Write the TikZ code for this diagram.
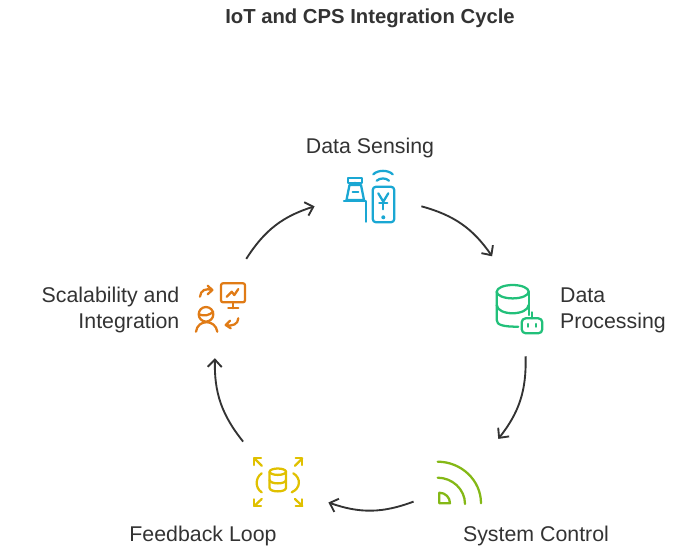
\documentclass[tikz,border=0pt]{standalone}
\usepackage{fontspec}
\setmainfont{Liberation Sans}
\usetikzlibrary{arrows.meta}
\definecolor{textgray}{HTML}{333333}
\definecolor{iconblue}{HTML}{1AA7D3}
\definecolor{icongreen}{HTML}{22C07A}
\definecolor{iconlime}{HTML}{84B816}
\definecolor{iconyellow}{HTML}{E0C000}
\definecolor{iconorange}{HTML}{E07B16}
\begin{document}
\begin{tikzpicture}[x=0.75pt,y=-0.75pt,>={Straight Barb[length=5.5pt,width=10.5pt]},
	stepring/.style={circle,minimum size=82.5pt,inner sep=0pt},
	flow/.style={->,draw=textgray,line width=1.4pt},
	label/.style={text=textgray,font=\fontsize{16}{19.5}\selectfont},
	icon/.style={line width=1.7pt,line cap=round,line join=round}]
	\useasboundingbox (0,0) rectangle (700,558);
	\node[text=textgray,font=\fontsize{15.2}{18}\selectfont\bfseries] (title) at (370,18) {IoT and CPS Integration Cycle};
	% rings the arrows start and end on
	\node[stepring] (sensing) at (368,192) {};
	\node[stepring] (processing) at (524.6,301) {};
	\node[stepring] (control) at (465.8,483.6) {};
	\node[stepring] (feedback) at (275.6,486.3) {};
	\node[stepring] (scaling) at (213,303) {};
	\draw[flow] (sensing.-15.8) to[bend left=20] (processing.126.5);
	\draw[flow] (processing.-89.6) to[bend left=20] (control.54.2);
	\draw[flow] (control.199.6) to[bend left=20] (feedback.-17.7);
	\draw[flow] (feedback.126.3) to[bend left=20] (scaling.-88);
	\draw[flow] (scaling.53) to[bend left=20] (sensing.195.8);
	% labels
	\node[label] (sensingtext) at (370,148) {Data Sensing};
	\node[label,align=left,anchor=west] (processingtext) at (555.5,310) {Data\\Processing};
	\node[label] (controltext) at (536,536) {System Control};
	\node[label] (feedbacktext) at (203,536) {Feedback Loop};
	\node[label,align=right,anchor=east] (scalingtext) at (184,310) {Scalability and\\Integration};
	% data sensing icon
	\begin{scope}[icon,draw=iconblue]
		\draw (348.3,178.3) rectangle (362.3,182.7);
		\draw (355.3,182.7) -- (355.3,185);
		\draw (349.5,185) -- (361,185) -- (364,200) -- (346.5,200) -- cycle;
		\draw (352.7,191.7) -- (358.3,191.7);
		\draw (344,200.7) -- (366,200.7) -- (366,221.7);
		\draw[rounded corners=2.5pt] (372.7,186.7) rectangle (394.3,222.3);
		\draw (378.3,193.3) -- (383.3,201.7) -- (388.3,193.3);
		\draw (383.3,201.7) -- (383.3,209.3);
		\draw (379.3,202.7) -- (387.3,202.7);
		\fill[iconblue] (383.3,217.3) circle (2);
		\draw (373.3,174.3) .. controls (378,169.7) and (388,169.7) .. (392.7,174.3);
		\draw (376.7,180.7) .. controls (380,177.7) and (386,177.7) .. (389,180.7);
	\end{scope}
	% data processing icon
	\begin{scope}[icon,draw=icongreen]
		\draw (512.7,291.7) circle[x radius=16,y radius=6.7];
		\draw (496.7,291.7) -- (496.7,320) .. controls (496.7,325) and (503,326.7) .. (518.3,326.7);
		\draw (528.7,291.7) -- (528.7,315);
		\draw (496.7,305) .. controls (497.5,316) and (527.5,316) .. (528.7,305);
		\draw[rounded corners=3pt] (521.7,318.3) rectangle (542.3,333.3);
		\draw (532,318.3) -- (532,312.3);
		\draw (527.7,324) -- (527.7,326.7);
		\draw (536.3,324) -- (536.3,326.7);
	\end{scope}
	% system control icon
	\begin{scope}[icon,draw=iconlime]
		\draw (437.7,461.7) .. controls (461,461.7) and (481,480) .. (481,503.3);
		\draw (437.7,477.7) .. controls (452,477.7) and (465,489) .. (465,504);
		\draw (439.3,492.7) .. controls (445.3,492.7) and (450,497.3) .. (450,503.3) -- (439.3,503.3) -- cycle;
	\end{scope}
	% feedback loop icon
	\begin{scope}[icon,draw=iconyellow]
		\draw (277.8,471.7) circle[x radius=8.2,y radius=3.2];
		\draw (269.6,471.7) -- (269.6,488) .. controls (270,492.5) and (285.6,492.5) .. (286,488) -- (286,471.7);
		\draw (269.6,480) .. controls (270,484.5) and (285.6,484.5) .. (286,480);
		\draw (261.7,473.3) .. controls (255,478) and (255,488) .. (261.7,492.3);
		\draw (293.3,473.3) .. controls (301,478) and (301,488) .. (291.7,492.3);
		\draw (261.7,465.7) -- (254.3,458.3);
		\draw (254.3,465) -- (254.3,458.3) -- (261,458.3);
		\draw (295,465.7) -- (302.3,458.3);
		\draw (295.7,458.3) -- (302.3,458.3) -- (302.3,465);
		\draw (261.7,499) -- (254.3,506);
		\draw (254.3,499.3) -- (254.3,506) -- (261,506);
		\draw (295,499) -- (302.3,506);
		\draw (302.3,499.3) -- (302.3,506) -- (295.7,506);
	\end{scope}
	% scalability icon
	\begin{scope}[icon,draw=iconorange]
		\draw[rounded corners=1.5pt] (221,283.3) rectangle (245,302.3);
		\draw (233,302.3) -- (233,308.3);
		\draw (228.3,308.3) -- (238.3,308.3);
		\draw (226.7,296.7) -- (231.7,291.7) -- (234.3,295) -- (238.3,289);
		\draw (200,296.7) .. controls (200.5,290) and (206,288) .. (212.3,290);
		\draw (207.7,285.7) -- (212.3,290) -- (207.7,294.3);
		\draw (206,314.3) circle (7.3);
		\draw (199,314.3) .. controls (204,316.5) and (209,315.5) .. (213.3,311.7);
		\draw (196,331.7) .. controls (197.5,319) and (215.5,319) .. (217.3,331.7);
		\draw (238.3,318.3) .. controls (238,324) and (233,326.5) .. (226,325);
		\draw (230,320.7) -- (225.7,325) -- (230.7,328.3);
	\end{scope}
\end{tikzpicture}
\end{document}
